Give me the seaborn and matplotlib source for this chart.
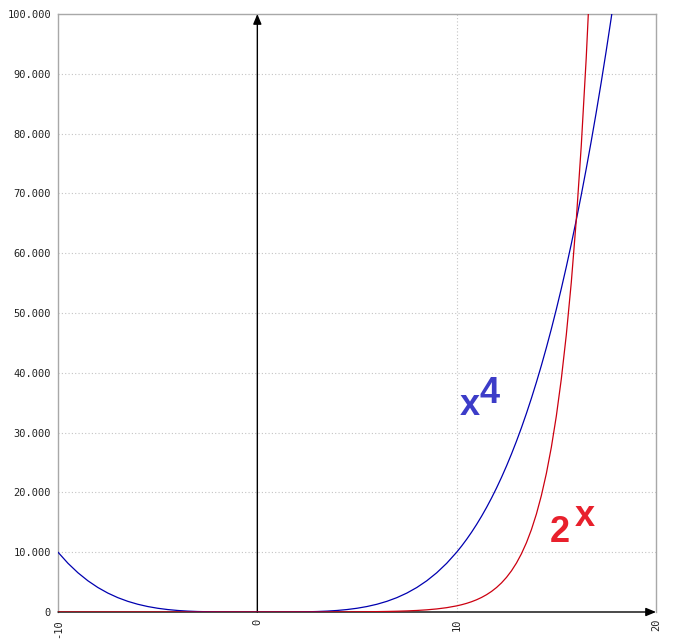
import matplotlib
matplotlib.use("Agg")
import matplotlib.pyplot as plt
import seaborn as sns
from matplotlib.ticker import FuncFormatter

# x^4 sampled values
quart_x = [-10, -9.5, -9, -8.5, -8, -7.5, -7, -6.5, -6, -5.5, -5, -4.5, -4, -3.5, -3,
           -2, -1, 0, 1, 1.5, 2, 2.5, 3, 3.5, 4, 4.5, 5, 5.5, 6, 6.5, 7, 7.5, 8, 8.5,
           9, 9.5, 10, 10.25, 10.5, 10.75, 11, 11.25, 11.5, 11.75, 12, 12.25, 12.5,
           12.75, 13, 13.25, 13.5, 13.75, 14, 14.25, 14.5, 14.75, 15, 15.25, 15.5,
           15.75, 16, 16.25, 16.5, 16.75, 17, 17.25, 17.5, 17.75, 18]
quart_y = [10000, 8145, 6561, 5220, 4096, 3164, 2401, 1785, 1296, 915, 625, 410, 256,
           150, 81, 16, 1, 0, 1, 5, 16, 39, 81, 150, 256, 410, 625, 915, 1296, 1785,
           2401, 3164, 4096, 5220, 6561, 8145, 10000, 11038, 12155, 13355, 14641,
           16018, 17490, 19061, 20736, 22519, 24414, 26427, 28561, 30822, 33215,
           35745, 38416, 41234, 44205, 47333, 50625, 54085, 57720, 61535, 65536,
           69729, 74120, 78715, 83521, 88543, 93789, 99264, 104976]

# 2^x sampled values
exp_x = [-10, -5, 0, 1, 2, 3, 4, 5, 6, 6.5, 7, 7.5, 8, 8.5, 9, 9.5, 10, 10.25, 10.5,
         10.75, 11, 11.25, 11.5, 11.75, 12, 12.25, 12.5, 12.75, 13, 13.25, 13.5,
         13.75, 14, 14.25, 14.5, 14.75, 15, 15.25, 15.5, 15.75, 16, 16.25, 16.5,
         16.75]
exp_y = [0.001, 0.031, 1, 2, 4, 8, 16, 32, 64, 90.5, 128, 181, 256, 362, 512, 724,
         1024, 1218, 1448, 1722, 2048, 2436, 2896, 3444, 4096, 4871, 5793, 6889,
         8192, 9742, 11585, 13777, 16384, 19484, 23170, 27554, 32768, 38968, 46341,
         55109, 65536, 77936, 92682, 110218]

x_ticks = [-10, 0, 10, 20]
y_ticks = list(range(0, 100001, 10000))

sns.set_style("white")
plt.rcParams["axes.unicode_minus"] = False
fig = plt.figure(figsize=(6.75, 6.4), dpi=100)
ax = fig.add_axes([58 / 675, 1 - 612 / 640, 598 / 675, 598 / 640])

grid_kw = dict(color="#c4c4c4", lw=0.8, ls=(0, (1, 2)), zorder=0)
for yv in y_ticks[1:-1]:
    ax.axhline(yv, **grid_kw)
ax.axvline(10, **grid_kw)

# axes with arrows
arrow = dict(arrowstyle="-|>,head_length=0.6,head_width=0.25",
             color="black", lw=1, shrinkA=0, shrinkB=0)
ax.annotate("", xy=(0, 100000), xytext=(0, 0), arrowprops=arrow, zorder=2.6)
ax.annotate("", xy=(20, 0), xytext=(-10, 0), arrowprops=arrow,
            annotation_clip=False, zorder=2.6)

sns.lineplot(x=quart_x, y=quart_y, ax=ax, color="#0000b0", lw=0.9, zorder=3)
sns.lineplot(x=exp_x, y=exp_y, ax=ax, color="#cc0010", lw=0.9, zorder=4)

ax.set_xlim(-10, 20)
ax.set_ylim(0, 100000)

for side in ["left", "top", "right"]:
    ax.spines[side].set_color("#a8a8a8")
    ax.spines[side].set_linewidth(1)
ax.spines["bottom"].set_visible(False)

ax.set_xticks(x_ticks)
ax.set_yticks(y_ticks)
ax.yaxis.set_major_formatter(FuncFormatter(lambda v, p: f"{int(v):,}".replace(",", ".")))
ax.tick_params(axis="both", length=0, labelsize=7.5, labelcolor="#222222", pad=5)
for lab in ax.get_xticklabels():
    lab.set_rotation(90)
for lab in ax.get_xticklabels() + ax.get_yticklabels():
    lab.set_family("DejaVu Sans Mono")

txt_kw = dict(fontsize=26, fontweight="bold", family="Liberation Sans",
              ha="left", va="baseline", zorder=6)
ax.text(10.15, 32900, "x", color="#3c3cc8", **txt_kw)
ax.text(11.15, 34950, "4", color="#3c3cc8", **txt_kw)
ax.text(14.65, 11700, "2", color="#e8202c", **txt_kw)
ax.text(15.9, 14400, "x", color="#e8202c", **txt_kw)

fig.savefig("out.png", dpi=100)
